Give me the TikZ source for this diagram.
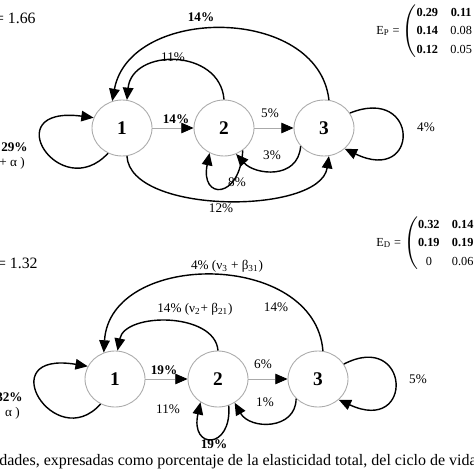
\documentclass[tikz,border=0pt]{standalone}
\usepackage{fontspec}
\setmainfont{Liberation Serif}
\usetikzlibrary{arrows.meta,shapes.geometric}
\definecolor{nodegray}{RGB}{170,170,170}

\begin{document}
\begin{tikzpicture}[x=0.02cm,y=0.02cm,
  estado/.style={ellipse,draw=nodegray,line width=0.5pt,minimum width=1.2cm,minimum height=1.12cm,inner sep=0pt,font=\fontsize{11}{13}\selectfont\bfseries},
  arco/.style={line width=0.8pt,-{Triangle[length=7pt,width=6pt]}},
  recta/.style={draw=nodegray,line width=0.5pt,-{Triangle[length=7pt,width=6pt,color=black]}},
  etq/.style={font=\fontsize{7.5}{9}\selectfont,inner sep=0pt},
  etqb/.style={font=\fontsize{7.5}{9}\selectfont\bfseries,inner sep=0pt},
  matriz/.style={font=\fontsize{7}{8.5}\selectfont,inner sep=0pt,anchor=west}]

\useasboundingbox (0,0) rectangle (474,-474);
\clip (0,0) rectangle (474,-474);

% grafo de arriba
\node[anchor=east,inner sep=0pt,font=\fontsize{9}{11}\selectfont] (lamp) at (36,-18) {= 1.66};
\node[estado] (p1) at (122,-128) {1};
\node[estado] (p2) at (224,-128) {2};
\node[estado] (p3) at (324,-128) {3};

% transiciones
\draw[recta] (p1) -- (p2);
\draw[recta] (p2) -- (p3);
\draw[arco] (p3.80) .. controls (318,-5) and (130,-5) .. (p1.110);
\draw[arco] (p2.north) .. controls (220,-48) and (132,-48) .. (p1.80);
\draw[arco] (p1.241) .. controls (60,-205) and (-5,-105) .. (p1.160);
\draw[arco] (p2.310) .. controls (240,-200) and (200,-200) .. (p2.240);
\draw[arco] (p3.218) .. controls (298,-180) and (255,-175) .. (p2.295);
\draw[arco] (p1.280) .. controls (130,-215) and (320,-215) .. (p3.280);
\draw[arco] (p3.30) .. controls (420,-85) and (420,-185) .. (p3.315);

% etiquetas
\node[etqb] (lp31) at (201,-17) {14\%};
\node[etq] (lp21) at (173,-57) {11\%};
\node[etqb] (lp12) at (176,-119) {14\%};
\node[etq] (lp23) at (270,-113) {5\%};
\node[etq] (lp32) at (272,-155) {3\%};
\node[etq] (lp22) at (237,-182) {8\%};
\node[etq] (lp13) at (221,-208) {12\%};
\node[etq] (lp33) at (426,-127) {4\%};
\node[etqb,anchor=east] (lp11) at (28,-147) {29\%};
\node[etq,anchor=east] (lp11b) at (25,-163) {+ α )};

% matriz E_P
\node[matriz] (ep) at (376,-31) {E\textsubscript{P} = $\left(\renewcommand{\arraystretch}{1.25}\begin{tabular}{@{}c@{\hspace{7pt}}c@{}}
  \textbf{0.29} & \textbf{0.11}\\
  \textbf{0.14} & 0.08\\
  \textbf{0.12} & 0.05
\end{tabular}\right.$};

% grafo de abajo
\node[anchor=east,inner sep=0pt,font=\fontsize{9}{11}\selectfont] (lamd) at (38,-263) {= 1.32};
\node[estado] (d1) at (115,-379) {1};
\node[estado] (d2) at (218,-379) {2};
\node[estado] (d3) at (318,-379) {3};

% transiciones
\draw[recta] (d1) -- (d2);
\draw[recta] (d2) -- (d3);
\draw[arco] (d3.80) .. controls (315,-250) and (110,-250) .. (d1.113);
\draw[arco] (d2.north) .. controls (215,-312) and (125,-312) .. (d1.85);
\draw[arco] (d1.240) .. controls (55,-455) and (-10,-350) .. (d1.155);
\draw[arco] (d2.292) .. controls (232,-450) and (190,-450) .. (d2.233);
\draw[arco] (d3.222) .. controls (296,-430) and (250,-430) .. (d2.305);
\draw[arco] (d3.30) .. controls (410,-330) and (415,-435) .. (d3.315);

% etiquetas
\node[etq] (ld31) at (227,-266) {4\% (ν\textsubscript{3} + β\textsubscript{31})};
\node[etq] (ld21) at (195,-309) {14\% (ν\textsubscript{2}+ β\textsubscript{21})};
\node[etq] (ld31b) at (276,-307) {14\%};
\node[etqb] (ld12) at (164,-370) {19\%};
\node[etq] (ld23) at (263,-364) {6\%};
\node[etq] (ld12b) at (168,-409) {11\%};
\node[etq] (ld32) at (265,-402) {1\%};
\node[etqb] (ld22) at (214,-444) {19\%};
\node[etq] (ld33) at (418,-379) {5\%};
\node[etqb,anchor=east] (ld11) at (23,-397) {32\%};
\node[etq,anchor=east] (ld11b) at (20,-413) {α )};

% matriz E_D
\node[matriz] (ed) at (376,-243) {E\textsubscript{D} = $\left(\renewcommand{\arraystretch}{1.25}\begin{tabular}{@{}c@{\hspace{7pt}}c@{}}
  \textbf{0.32} & \textbf{0.14}\\
  \textbf{0.19} & \textbf{0.19}\\
  0 & 0.06
\end{tabular}\right.$};

% pie de figura
\node[anchor=west,inner sep=0pt,font=\fontsize{9.1}{11}\selectfont] (pie) at (-1,-462) {dades, expresadas como porcentaje de la elasticidad total, del ciclo de vida};

\end{tikzpicture}
\end{document}
